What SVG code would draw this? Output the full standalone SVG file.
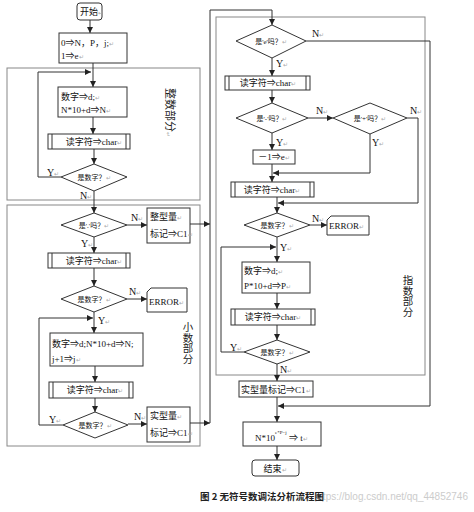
<svg xmlns="http://www.w3.org/2000/svg" width="474" height="512" viewBox="0 0 474 512">
<defs>
<marker id="ah" markerWidth="6" markerHeight="6" refX="6" refY="3" orient="auto" markerUnits="userSpaceOnUse"><path d="M0,0 L6,3 L0,6 Z" fill="#222"/></marker>
<style>
.bx{fill:#fff;stroke:#333;stroke-width:1}
.fr{fill:none;stroke:#888;stroke-width:1}
.ln{fill:none;stroke:#333;stroke-width:1}
.ar{fill:none;stroke:#333;stroke-width:1;marker-end:url(#ah)}
.t{font-family:'Liberation Serif','Noto Sans CJK SC',serif;font-size:9px;fill:#111}
.d{font-family:'Liberation Serif','Noto Sans CJK SC',serif;font-size:7px;fill:#111;text-anchor:middle}
.c{text-anchor:middle}
.yn{font-family:'Liberation Serif','Noto Sans CJK SC',serif;font-size:10px;fill:#111}
.m{fill:#aaa;font-size:6px}
.side{font-family:'Noto Sans CJK SC',sans-serif;font-size:11px;fill:#222}
.vert{writing-mode:vertical-rl;font-family:'Noto Sans CJK SC',sans-serif;font-size:10.5px;fill:#222}
</style>
</defs>
<rect width="474" height="512" fill="#fff"/>

<g id="frames">
<rect class="fr" x="7" y="68" width="193" height="132"/>
<rect class="fr" x="7" y="205" width="193" height="241"/>
<rect class="fr" x="216" y="17" width="209" height="358"/>
</g>

<g id="connectors">
<path class="ar" d="M90,20 V33"/>
<path class="ar" d="M93,63 V87"/>
<path class="ar" d="M38,177 H61 M38,177 V72 H91"/>
<path class="ar" d="M93,117 V134"/>
<path class="ar" d="M94,149 V164"/>
<path class="ar" d="M94,191 V213"/>
<path class="ar" d="M127,225 H147"/>
<path class="ar" d="M190,224 H210"/>
<path class="ar" d="M94,237 V253"/>
<path class="ar" d="M94,268 V286"/>
<path class="ar" d="M127,299 H147"/>
<path class="ar" d="M94,312 V333"/>
<path class="ar" d="M63,425 H39 V318 H93"/>
<path class="ar" d="M95,366 V382"/>
<path class="ar" d="M95,398 V412"/>
<path class="ar" d="M128,424 H147"/>
<path class="ar" d="M190,423 H210"/>
<path class="ar" d="M210,423 V10 H272 V25"/>
<path class="ar" d="M306,41 H430 V406 H278"/>
<path class="ar" d="M272,58 V76"/>
<path class="ar" d="M272,90 V103"/>
<path class="ar" d="M308,118 H333"/>
<path class="ar" d="M407,118 H418 V203 H278"/>
<path class="ar" d="M272,133 V150"/>
<path class="ar" d="M370,134 V173 H273"/>
<path class="ar" d="M272,164 V182"/>
<path class="ar" d="M277,197 V213"/>
<path class="ar" d="M310,225 H327"/>
<path class="ar" d="M277,237 V262"/>
<path class="ar" d="M244,352 H221 V247 H276"/>
<path class="ar" d="M277,293 V309"/>
<path class="ar" d="M277,325 V340"/>
<path class="ar" d="M277,364 V381"/>
<path class="ar" d="M277,397 V422"/>
<path class="ar" d="M277,446 V460"/>
</g>

<g id="labels">
<text class="yn" x="47" y="176">Y<tspan class="m">↵</tspan></text>
<text class="yn" x="80" y="199">N<tspan class="m">↵</tspan></text>
<text class="yn" x="131" y="221">N<tspan class="m">↵</tspan></text>
<text class="yn" x="81" y="247">Y<tspan class="m">↵</tspan></text>
<text class="yn" x="129" y="295">N<tspan class="m">↵</tspan></text>
<text class="yn" x="98" y="324">Y<tspan class="m">↵</tspan></text>
<text class="yn" x="49" y="423">Y<tspan class="m">↵</tspan></text>
<text class="yn" x="134" y="420">N<tspan class="m">↵</tspan></text>
<text class="yn" x="312" y="37">N<tspan class="m">↵</tspan></text>
<text class="yn" x="276" y="67">Y<tspan class="m">↵</tspan></text>
<text class="yn" x="316" y="114">N<tspan class="m">↵</tspan></text>
<text class="yn" x="410" y="114">N<tspan class="m">↵</tspan></text>
<text class="yn" x="276" y="146">Y<tspan class="m">↵</tspan></text>
<text class="yn" x="372" y="146">Y<tspan class="m">↵</tspan></text>
<text class="yn" x="312" y="222">N<tspan class="m">↵</tspan></text>
<text class="yn" x="280" y="251">Y<tspan class="m">↵</tspan></text>
<text class="yn" x="230" y="351">Y<tspan class="m">↵</tspan></text>
<text class="yn" x="280" y="373">N<tspan class="m">↵</tspan></text>
</g>

<g id="start">
<rect class="bx" x="77" y="3" width="25" height="17" rx="3"/>
<text class="t" x="80" y="15">开始<tspan class="m">↵</tspan></text>
</g>
<g id="init">
<rect class="bx" x="59" y="33" width="68" height="30"/>
<text class="t" x="61" y="46">0⇒N，P，j;<tspan class="m">↵</tspan></text>
<text class="t" x="61" y="59">1⇒e<tspan class="m">↵</tspan></text>
</g>

<g id="intPart">
<text class="side" transform="translate(166,88) rotate(90)">整数部分<tspan class="m">↵</tspan></text>
<g id="int-box">
<rect class="bx" x="58" y="87" width="69" height="30"/>
<text class="t" x="61" y="100">数字⇒d;<tspan class="m">↵</tspan></text>
<text class="t" x="61" y="113">N*10+d⇒N<tspan class="m">↵</tspan></text>
</g>
<g id="int-read">
<rect class="bx" x="48" y="134" width="82" height="15"/>
<path class="ln" d="M52,134 V149 M126,134 V149"/>
<text class="t c" x="94" y="145">读字符⇒char<tspan class="m">↵</tspan></text>
</g>
<g id="int-isdigit">
<polygon class="bx" points="94,164 127,177 94,191 61,177"/>
<text class="d" x="94" y="180">是数字？<tspan class="m">↵</tspan></text>
</g>
</g>

<g id="decPart">
<text class="vert" x="188" y="322">小数部分</text>
<g id="dec-isdot">
<polygon class="bx" points="94,213 127,225 94,237 61,225"/>
<text class="d" x="94" y="228">是'.'吗？<tspan class="m">↵</tspan></text>
</g>
<g id="int-mark">
<rect class="bx" x="147" y="208" width="43" height="35"/>
<text class="t" x="150" y="220">整型量<tspan class="m">↵</tspan></text>
<text class="t" x="150" y="237">标记⇒C1<tspan class="m">↵</tspan></text>
</g>
<g id="dec-read1">
<rect class="bx" x="48" y="253" width="82" height="15"/>
<path class="ln" d="M52,253 V268 M126,253 V268"/>
<text class="t c" x="94" y="264">读字符⇒char<tspan class="m">↵</tspan></text>
</g>
<g id="dec-isdigit1">
<polygon class="bx" points="94,286 127,299 94,312 61,299"/>
<text class="d" x="94" y="302">是数字？<tspan class="m">↵</tspan></text>
</g>
<g id="error1">
<path class="bx" d="M151,288 H187 V312 H147 V292 Z"/>
<text class="t" x="149" y="305">ERROR<tspan class="m">↵</tspan></text>
</g>
<g id="dec-box">
<rect class="bx" x="50" y="333" width="93" height="33"/>
<text class="t" x="52" y="347">数字⇒d;N*10+d⇒N;</text>
<text class="t" x="52" y="362">j+1⇒j<tspan class="m">↵</tspan></text>
</g>
<g id="dec-read2">
<rect class="bx" x="49" y="382" width="84" height="16"/>
<path class="ln" d="M53,382 V398 M129,382 V398"/>
<text class="t c" x="95" y="393">读字符⇒char<tspan class="m">↵</tspan></text>
</g>
<g id="dec-isdigit2">
<polygon class="bx" points="95,412 128,425 95,438 63,425"/>
<text class="d" x="95" y="428">是数字？<tspan class="m">↵</tspan></text>
</g>
<g id="real-mark1">
<rect class="bx" x="147" y="407" width="43" height="35"/>
<text class="t" x="150" y="419">实型量<tspan class="m">↵</tspan></text>
<text class="t" x="150" y="436">标记⇒C1<tspan class="m">↵</tspan></text>
</g>
</g>

<g id="expPart">
<text class="vert" x="408" y="275">指数部分</text>
<g id="exp-ise">
<polygon class="bx" points="272,25 306,41 272,58 236,41"/>
<text class="d" x="271" y="44">是'e'吗？<tspan class="m">↵</tspan></text>
</g>
<g id="exp-read1">
<rect class="bx" x="225" y="76" width="85" height="14"/>
<path class="ln" d="M229,76 V90 M306,76 V90"/>
<text class="t c" x="268" y="86">读字符⇒char<tspan class="m">↵</tspan></text>
</g>
<g id="exp-isminus">
<polygon class="bx" points="272,103 308,118 272,133 236,118"/>
<text class="d" x="272" y="121">是'-'吗？<tspan class="m">↵</tspan></text>
</g>
<g id="exp-isplus">
<polygon class="bx" points="370,103 407,118 370,134 333,118"/>
<text class="d" x="370" y="121">是'+'吗？<tspan class="m">↵</tspan></text>
</g>
<g id="exp-neg">
<rect class="bx" x="253" y="150" width="42" height="14"/>
<text class="t c" x="274" y="160">－1⇒e<tspan class="m">↵</tspan></text>
</g>
<g id="exp-read2">
<rect class="bx" x="231" y="182" width="83" height="15"/>
<path class="ln" d="M235,182 V197 M310,182 V197"/>
<text class="t c" x="272" y="193">读字符⇒char<tspan class="m">↵</tspan></text>
</g>
<g id="exp-isdigit1">
<polygon class="bx" points="277,213 310,225 277,237 244,225"/>
<text class="d" x="277" y="228">是数字？<tspan class="m">↵</tspan></text>
</g>
<g id="error2">
<path class="bx" d="M331,216 H369 V235 H327 V220 Z"/>
<text class="t" x="329" y="229">ERROR<tspan class="m">↵</tspan></text>
</g>
<g id="exp-box">
<rect class="bx" x="242" y="262" width="68" height="31"/>
<text class="t" x="244" y="274">数字⇒d;<tspan class="m">↵</tspan></text>
<text class="t" x="244" y="289">P*10+d⇒P<tspan class="m">↵</tspan></text>
</g>
<g id="exp-read3">
<rect class="bx" x="231" y="309" width="84" height="16"/>
<path class="ln" d="M235,309 V325 M311,309 V325"/>
<text class="t c" x="273" y="320">读字符⇒char<tspan class="m">↵</tspan></text>
</g>
<g id="exp-isdigit2">
<polygon class="bx" points="277,340 310,352 277,364 244,352"/>
<text class="d" x="277" y="355">是数字？<tspan class="m">↵</tspan></text>
</g>
</g>

<g id="real-mark2">
<rect class="bx" x="239" y="381" width="74" height="16"/>
<text class="t" x="241" y="393">实型量标记⇒C1<tspan class="m">↵</tspan></text>
</g>
<g id="result">
<rect class="bx" x="243" y="422" width="78" height="24"/>
<text class="t" x="255" y="441">N*10<tspan font-size="5" dy="-7">e*P−j</tspan><tspan dy="7"> ⇒ t</tspan><tspan class="m">↵</tspan></text>
</g>
<g id="end">
<rect class="bx" x="252" y="460" width="47" height="16" rx="3"/>
<text class="t c" x="275" y="472">结束<tspan class="m">↵</tspan></text>
</g>

<text x="468" y="500" text-anchor="end" style="font-family:'Liberation Sans',sans-serif;font-size:10px;fill:#ccc">https://blog.csdn.net/qq_44852746</text>
<text x="200" y="500" style="font-family:'Noto Sans CJK SC',sans-serif;font-size:9.5px;font-weight:bold;fill:#222">图 2  无符号数调法分析流程图</text>
</svg>
